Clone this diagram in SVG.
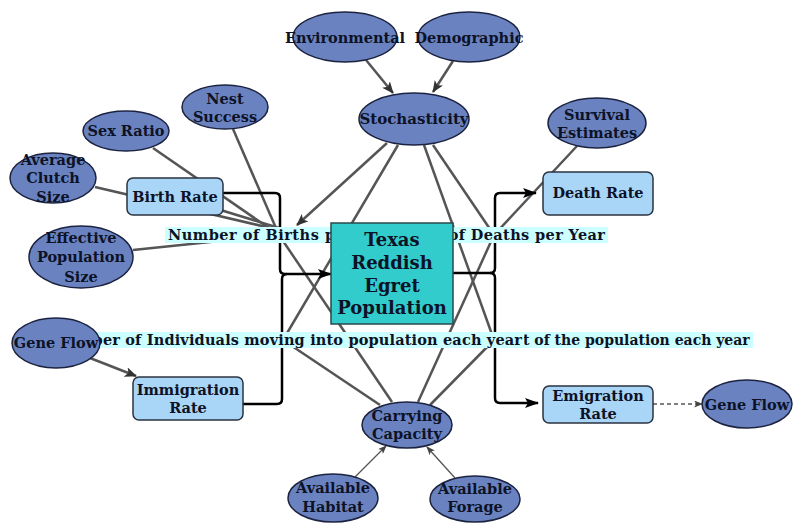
<svg xmlns="http://www.w3.org/2000/svg" width="800" height="528" viewBox="0 0 800 528">
<defs>
<style>
.el{fill:#6a83c0;stroke:#1c2340;stroke-width:1.5}
.rt{fill:#a9d5f7;stroke:#2a3340;stroke-width:1.5}
.t{font-family:"DejaVu Serif",serif;font-weight:bold;font-size:14.5px;fill:#0d1226;text-anchor:middle}
.lt{font-family:"DejaVu Serif",serif;font-weight:bold;font-size:14.5px;fill:#0d1226}
.lt2{font-family:"DejaVu Serif",serif;font-weight:bold;font-size:14px;fill:#0d1226}
.tb{font-family:"DejaVu Serif",serif;font-weight:bold;font-size:18px;fill:#0d1226;text-anchor:middle}
.lk{stroke:#555;stroke-width:2.5;fill:none}
.lkt{stroke:#555;stroke-width:1.3;fill:none}
.fl{stroke:#000;stroke-width:2.5;fill:none}
.lbg{fill:#ccffff}
</style>
<marker id="ag" viewBox="0 0 12 10" refX="11" refY="5" markerWidth="12" markerHeight="10" markerUnits="userSpaceOnUse" orient="auto">
<path d="M0,0 L12,5 L0,10 L3,5 z" fill="#333"/>
</marker>
<marker id="as" viewBox="0 0 10 8" refX="9" refY="4" markerWidth="9" markerHeight="7" markerUnits="userSpaceOnUse" orient="auto">
<path d="M0,0 L10,4 L0,8 L2.5,4 z" fill="#444"/>
</marker>
<marker id="ab" viewBox="0 0 14 10" refX="13" refY="5" markerWidth="14" markerHeight="10" markerUnits="userSpaceOnUse" orient="auto">
<path d="M0,0 L14,5 L0,10 L3,5 z" fill="#000"/>
</marker>
</defs>
<rect width="800" height="528" fill="#fff"/>

<g id="connectors">
<line class="lk" x1="153" y1="148" x2="279" y2="235"/>
<line class="lk" x1="233" y1="129" x2="279" y2="235"/>
<line class="lk" x1="95" y1="187" x2="279" y2="230"/>
<line class="lk" x1="175" y1="196" x2="279" y2="228"/>
<line class="lk" x1="133" y1="250" x2="279" y2="235"/>
<line class="lk" x1="577" y1="146" x2="494" y2="235"/>
<line class="lk" x1="387" y1="143" x2="297" y2="225" marker-end="url(#ag)"/>
<line class="lk" x1="398" y1="145" x2="283" y2="340"/>
<line class="lk" x1="433" y1="145" x2="494" y2="235"/>
<line class="lk" x1="424" y1="145" x2="494" y2="340"/>
<line class="lk" x1="392" y1="402" x2="279" y2="235"/>
<line class="lk" x1="380" y1="405" x2="283" y2="340"/>
<line class="lk" x1="418" y1="402" x2="494" y2="235"/>
<line class="lk" x1="430" y1="405" x2="494" y2="340"/>
<line class="lk" x1="366" y1="60" x2="393" y2="93" marker-end="url(#ag)"/>
<line class="lk" x1="453" y1="61" x2="433" y2="92" marker-end="url(#ag)"/>
<line class="lk" x1="90" y1="358" x2="136" y2="376" marker-end="url(#ag)"/>
<line class="lkt" x1="355" y1="477" x2="386" y2="446" marker-end="url(#as)"/>
<line class="lkt" x1="455" y1="478" x2="427" y2="447" marker-end="url(#as)"/>
<line class="lkt" x1="653" y1="404" x2="702" y2="404" stroke-dasharray="4,3" marker-end="url(#as)"/>
<path class="fl" d="M223,193 H275 Q280,193 280,198 V269 Q280,274 285,274 H331" marker-end="url(#ab)"/>
<path class="fl" d="M243,404 H277 Q282,404 282,399 V279 Q282,274 287,274"/>
<path class="fl" d="M453,273 H490 Q495,273 495,268 V198 Q495,193 500,193 H536" marker-end="url(#ab)"/>
<path class="fl" d="M490,273 Q495,273 495,278 V398 Q495,403 500,403 H538" marker-end="url(#ab)"/>
</g>

<g id="flow-labels">
<rect class="lbg" x="165" y="227" width="234" height="16"/>
<text class="lt" x="168" y="240" textLength="228">Number of Births per Year</text>
<rect class="lbg" x="372" y="227" width="236" height="16"/>
<text class="lt" x="375" y="240" textLength="230">Number of Deaths per Year</text>
<rect class="lbg" x="255" y="332" width="498" height="16"/>
<text class="lt2" y="345"><tspan x="258">Number of Individuals moving ou</tspan><tspan x="523">t of the population each year</tspan></text>
<rect class="lbg" x="50" y="332" width="474" height="16"/>
<text class="lt" x="53" y="345" textLength="469">Number of Individuals moving into population each year</text>
</g>

<g id="environmental"><ellipse class="el" cx="345" cy="37" rx="52" ry="25"/><text class="t" x="345" y="43">Environmental</text></g>
<g id="demographic"><ellipse class="el" cx="469" cy="37" rx="51" ry="25"/><text class="t" x="469" y="43">Demographic</text></g>
<g id="stochasticity"><ellipse class="el" cx="414" cy="119" rx="55" ry="26"/><text class="t" x="414" y="124" style="font-size:15px">Stochasticity</text></g>
<g id="nest-success"><ellipse class="el" cx="225" cy="107" rx="43" ry="22"/><text class="t" x="225" y="104">Nest</text><text class="t" x="225" y="122">Success</text></g>
<g id="sex-ratio"><ellipse class="el" cx="126" cy="131" rx="43" ry="20"/><text class="t" x="126" y="136">Sex Ratio</text></g>
<g id="survival-estimates"><ellipse class="el" cx="597" cy="123" rx="49" ry="25"/><text class="t" x="597" y="120">Survival</text><text class="t" x="597" y="138">Estimates</text></g>
<g id="average-clutch-size"><ellipse class="el" cx="53" cy="178" rx="43" ry="25"/><text class="t" x="53" y="165">Average</text><text class="t" x="53" y="183">Clutch</text><text class="t" x="53" y="202">Size</text></g>
<g id="effective-population-size"><ellipse class="el" cx="81" cy="257" rx="52" ry="31"/><text class="t" x="81" y="243">Effective</text><text class="t" x="81" y="262">Population</text><text class="t" x="81" y="282">Size</text></g>
<g id="birth-rate"><rect class="rt" x="127" y="178" width="96" height="37" rx="6"/><text class="t" x="175" y="202">Birth Rate</text></g>
<g id="death-rate"><rect class="rt" x="543" y="172" width="110" height="43" rx="6"/><text class="t" x="598" y="198">Death Rate</text></g>
<g id="gene-flow-in"><ellipse class="el" cx="56" cy="343" rx="44" ry="25"/><text class="t" x="56" y="348">Gene Flow</text></g>
<g id="immigration-rate"><rect class="rt" x="133" y="377" width="110" height="43" rx="6"/><text class="t" x="188" y="395">Immigration</text><text class="t" x="188" y="413">Rate</text></g>
<g id="emigration-rate"><rect class="rt" x="543" y="386" width="110" height="37" rx="6"/><text class="t" x="598" y="401">Emigration</text><text class="t" x="598" y="419">Rate</text></g>
<g id="gene-flow-out"><ellipse class="el" cx="747" cy="404" rx="45" ry="24"/><text class="t" x="747" y="410">Gene Flow</text></g>
<g id="carrying-capacity"><ellipse class="el" cx="407" cy="425" rx="45" ry="23"/><text class="t" x="407" y="421">Carrying</text><text class="t" x="407" y="439">Capacity</text></g>
<g id="available-habitat"><ellipse class="el" cx="333" cy="498" rx="45" ry="24"/><text class="t" x="333" y="493">Available</text><text class="t" x="333" y="512">Habitat</text></g>
<g id="available-forage"><ellipse class="el" cx="475" cy="499" rx="45" ry="23"/><text class="t" x="475" y="494">Available</text><text class="t" x="475" y="512">Forage</text></g>
<g id="texas-reddish-egret-population"><rect x="331" y="223" width="122" height="101" fill="#33cccc" stroke="#2a4a4a" stroke-width="1.5"/><text class="tb" x="392" y="246">Texas</text><text class="tb" x="392" y="269">Reddish</text><text class="tb" x="392" y="292">Egret</text><text class="tb" x="392" y="314">Population</text></g>
</svg>
